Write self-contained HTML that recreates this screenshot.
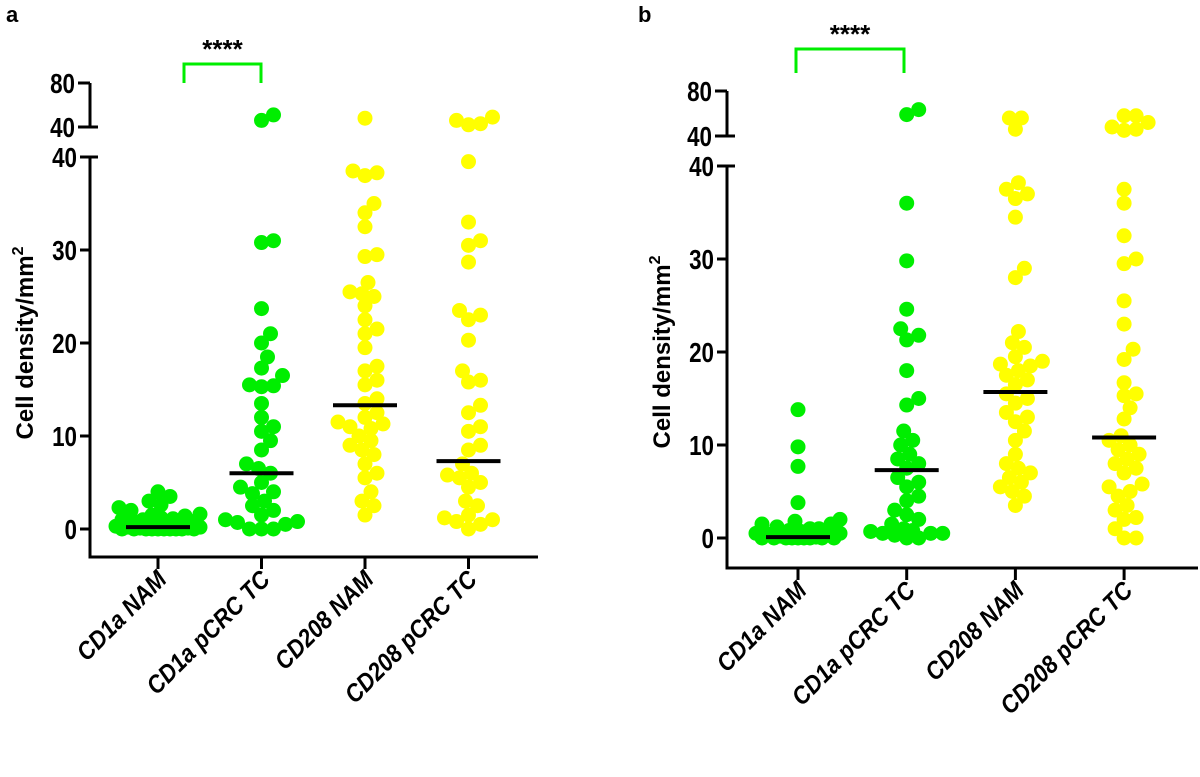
<!DOCTYPE html>
<html><head><meta charset="utf-8"><style>
body{margin:0;background:#fff;}
svg{display:block;font-family:"Liberation Sans",sans-serif;}
</style></head><body>
<svg id="fig" width="1200" height="777" viewBox="0 0 1200 777"></svg>
<script>
const categories = ["CD1a NAM","CD1a pCRC TC","CD208 NAM","CD208 pCRC TC"];
const colors = ["#00ee00","#00ee00","#ffff00","#ffff00"];
const ticksLower = [0,10,20,30,40];
const ticksUpper = [40,80];
// panel a
const a_cd1aNam = [0,0,0,0,0,0,0,0,0,0,0.1,0.1,0.2,0.2,0.3,0.3,0.4,0.5,0.5,0.6,0.8,0.8,1,1,1.1,1.2,1.4,1.5,1.6,2,2.3,2.6,3,3.5,4];
const a_cd1aPcrc = [51,46,31,30.8,23.7,21,20,18.5,17.3,16.5,15.5,15.4,15.3,13.5,12,11,10.5,9.5,8.5,7,6.5,6,5,4.5,4,3.8,3,2.5,2,1.5,1,0.8,0.7,0.5,0,0,0];
const a_cd208Nam = [48,38.5,38.3,38,35,34,32.5,29.5,29.3,26.5,25.5,25.3,25,24,22.5,21.5,21,19.5,17.5,17,16,15.5,14,13.5,12.5,12,11.5,11.3,11,10.8,10,9.5,9,8.5,8,7,6,5.5,4,3,2.5,1.5];
const a_cd208Pcrc = [49,46,43,42,39.5,33,31,30.5,28.7,23.5,23,22.5,20.3,17,16,15.8,13.3,12.5,11,10.5,9,8.5,7,6,5.8,5.5,5,4.5,3,2.5,1.5,1.2,1,0.8,0.5,0];
const a_means = [0.2,6.0,13.3,7.3];
// panel b
const b_cd1aNam = [13.8,9.8,7.7,3.8,2,1.8,1.5,1.5,1.2,1,1,0.8,0.7,0.5,0.5,0.4,0.3,0.2,0.1,0,0,0,0,0,0,0,0,0];
const b_cd1aPcrc = [63.5,59,36,29.8,24.6,22.5,21.8,21.3,18,15,14.3,11.5,10.5,10,9,8.5,8,7.5,6.5,6,5.5,4.5,4,3,2.5,2,1.5,1,0.8,0.7,0.5,0.5,0.5,0.3,0,0];
const b_cd208Nam = [56,56,46,38.2,37.5,37,36.5,34.5,29,28,22.2,21,20.5,19.5,19,18.7,18.5,18,17.5,17,16.5,15.5,15,14.5,13.5,13,12.5,11.5,10.5,9,8,7.5,7,6.5,6,5.5,5,4.5,3.5];
const b_cd208Pcrc = [58,58,52,48,46,45,37.5,36,32.5,30,29.5,25.5,23,20.3,19.2,16.7,15.5,15.3,14,12.8,11,10.5,10,9.5,9,8.5,8,7.5,7,5.8,5.5,5,4.5,3.5,3,2.2,2,1,0,0];
const b_means = [0.1,7.3,15.7,10.8];

const NS="http://www.w3.org/2000/svg";
const svg=document.getElementById('fig');
function el(tag,attrs,parent){const e=document.createElementNS(NS,tag);for(const k in attrs)e.setAttribute(k,attrs[k]);(parent||svg).appendChild(e);return e;}

function drawPanel(p){
  const g=el('g',{});
  
  
  const yL=v=>p.y0-(v)*(p.y0-p.y40)/40;
  const yU=v=>p.yU40-(v-40)*(p.yU40-p.yU80)/40;
  const yv=v=>v>40?yU(v):yL(v);
  const xc=i=>p.cx0+i*p.dx;
  const k='stroke:#000;stroke-width:3;fill:none';
  let ax=el('line',{x1:p.ax,y1:yL(40),x2:p.ax,y2:p.yb,style:k},g);
  
  ax=el('line',{x1:p.ax,y1:yU(80),x2:p.ax,y2:yU(40),style:k},g);
  
  ax=el('line',{x1:p.ax-1.5,y1:p.yb,x2:p.axEnd,y2:p.yb,style:k},g);
  
  ticksLower.forEach(t=>{
    const y=yL(t);
    el('line',{x1:p.ax-10,y1:y,x2:t===40?p.ax+8:p.ax,y2:y,style:k},g);
    const tx=el('text',{transform:`translate(${p.ax-13},${y+10}) scale(0.8,1)`,'text-anchor':'end','font-size':28,'font-weight':'bold'},g);
    tx.textContent=t;
    
  });
  ticksUpper.forEach(t=>{
    const y=yU(t);
    el('line',{x1:p.ax-12,y1:y,x2:t===40?p.ax+8:p.ax,y2:y,style:k},g);
    const tx=el('text',{transform:`translate(${p.ax-15},${y+10}) scale(0.8,1)`,'text-anchor':'end','font-size':28,'font-weight':'bold'},g);
    tx.textContent=t;
    
  });
  const yt=el('text',{x:0,y:0,transform:`translate(${p.ax-57},${(yL(0)+yL(40))/2}) rotate(-90)`,'text-anchor':'middle','font-size':24,'font-weight':'bold'},g);
  yt.innerHTML='Cell density/mm<tspan dy="-10" font-size="16">2</tspan>';
  
  const pl=el('text',{x:p.letterX,y:22,'font-size':22,'font-weight':'bold'},g);
  pl.textContent=p.letter;
  
  const r=7.5, maxOff=44;
  categories.forEach((c,i)=>{
    const x=xc(i);
    el('line',{x1:x,y1:p.yb,x2:x,y2:p.yb+12,style:k},g);
    const lb=el('text',{x:0,y:0,transform:`translate(${x+10},${p.yb+24}) rotate(-45) scale(0.9,1)`,'text-anchor':'end','font-size':25,'font-weight':'bold','font-style':'italic'},g);
    lb.textContent=c;
    
    const vals=p.series[i].slice().sort((a,b)=>a-b);
    const placed=[];
    vals.forEach(v=>{
      const y=yv(v);
      let best=0,bestD=-1;
      for(let s=0;s<=2*Math.floor(maxOff/3);s++){
        const cand=(s%2?1:-1)*Math.ceil(s/2)*3;
        let md=Infinity;
        placed.forEach(q=>{md=Math.min(md,Math.hypot(q[0]-cand,q[1]-y));});
        if(md>=2*r-3){best=cand;bestD=Infinity;break;}
        if(md>bestD){bestD=md;best=cand;}
      }
      placed.push([best,y]);
      const d=el('circle',{cx:x+best,cy:y,r:r,fill:colors[i]},g);
      
      
    });
    const m=el('line',{x1:x-32,y1:yL(p.means[i]),x2:x+32,y2:yL(p.means[i]),stroke:'#000','stroke-width':4},g);
    
  });
  const br=el('path',{d:`M${p.br[0]},${p.br[3]} V${p.br[2]} H${p.br[1]} V${p.br[3]}`,stroke:'#00ee00','stroke-width':3,fill:'none'},g);
  
  const st=el('text',{x:(p.br[0]+p.br[1])/2,y:p.br[2]-6,'text-anchor':'middle','font-size':26,'font-weight':'bold'},g);
  st.textContent='****';
  
}
drawPanel({letter:'a',letterX:6,ax:90,axEnd:538,yb:557,y0:529,y40:157,yU40:127,yU80:83,cx0:158,dx:103.5,
  series:[a_cd1aNam,a_cd1aPcrc,a_cd208Nam,a_cd208Pcrc],means:a_means,br:[184,261,64,83]});
drawPanel({letter:'b',letterX:638,ax:727,axEnd:1198,yb:568,y0:538,y40:166,yU40:136,yU80:91,cx0:798,dx:108.7,
  series:[b_cd1aNam,b_cd1aPcrc,b_cd208Nam,b_cd208Pcrc],means:b_means,br:[796,904,49,73]});
</script>
</body></html>
